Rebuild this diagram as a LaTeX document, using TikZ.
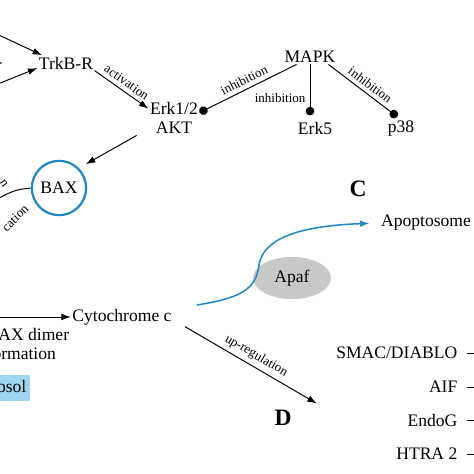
\documentclass[tikz,border=0pt]{standalone}
\usepackage{fontspec}
\setmainfont{Liberation Serif}
\usetikzlibrary{arrows.meta,shapes.geometric}
\definecolor{baxblue}{RGB}{30,136,196}
\definecolor{apafgray}{RGB}{200,200,200}
\definecolor{cytoblue}{RGB}{160,214,242}
\tikzset{
  main/.style={font=\fontsize{12.7}{14}\selectfont, inner sep=1pt},
  lbl/.style={font=\fontsize{9.4}{10}\selectfont, inner sep=3pt},
  panel/.style={font=\fontsize{17}{18}\selectfont\bfseries, inner sep=1pt},
  act/.style={-{Latex[length=2.4mm,width=1.7mm]}, line width=0.7pt},
  inh/.style={-{Circle[length=2.2mm]}, line width=0.7pt},
}

\begin{document}
\begin{tikzpicture}[x=0.0254cm,y=-0.0254cm]
\useasboundingbox (0,0) rectangle (474,474);
\clip (0,0) rectangle (474,474);

% upper pathway
\node[main] (trkb) at (66,63) {TrkB-R};
\node[main, align=center] (erk) at (174,118) {Erk1/2\\AKT};
\node[main] (mapk) at (310,57) {MAPK};
\node[main] (erk5) at (315,128) {Erk5};
\node[main] (p38) at (401,129) {p38};

\coordinate (in1) at (-12,30);
\coordinate (in2) at (-12,88);
\coordinate (in3) at (-14,63);
\coordinate (in3tip) at (3,63);
\draw[act] (in1) -- (trkb.162);
\draw[act] (in2) -- (trkb.190);
\draw[act] (in3) -- (in3tip);

\draw[act] (trkb.-15) -- node[lbl, sloped, above] {activation} (erk.160);
\draw[inh] (mapk.209) -- node[lbl, sloped, above] {inhibition} (erk.12);
\draw[inh, shorten >=0.12cm] (mapk.south) -- node[lbl, left, pos=0.6] {inhibition} (mapk.south |- erk5.north);
\draw[inh, shorten >=0.12cm] (mapk.-22) -- node[lbl, sloped, above] {inhibition} (p38.north);

% BAX
\node[main, circle, draw=baxblue, line width=1.6pt, minimum size=1.38cm] (bax) at (59,188) {BAX};
\draw[act, shorten >=0.2cm] ([xshift=-0.3cm]erk.south west) -- (bax.45);
\coordinate (baxout) at (-12,204);
\draw[line width=0.7pt] (bax.west) .. controls (14,190) .. (baxout);
\node[lbl, rotate=-55] (lbln) at (4,183) {n};
\node[lbl, rotate=45] (lblcat) at (15,218) {cation};

% C: apoptosome
\node[panel] (c) at (358,189) {C};
\node[main] (apo) at (426,223) {Apoptosome};
\node[main, ellipse, fill=apafgray, minimum width=1.98cm, minimum height=1.07cm] (apaf) at (292,278) {Apaf};
\coordinate (cytout) at (197,305);
\draw[act, draw=baxblue, line width=1.1pt, shorten >=0.25cm] (cytout)
  .. controls (240,298) and (256,290) .. (259,265)
  .. controls (263,240) and (295,226) .. (apo.west);

% cytochrome c
\node[main] (cytc) at (122,317) {Cytochrome c};
\coordinate (cin) at (-12,317);
\draw[act] (cin) -- (cytc.west);
\node[main, anchor=west, align=left] (dimer) at (-15,344) {BAX dimer\\formation};
\node[main, fill=cytoblue, inner xsep=0.1cm, minimum height=0.66cm] (cytosol) at (-1,388) {Cytosol};

% D: mitochondrial factors
\node[panel] (d) at (283,418) {D};
\draw[act] ([xshift=0.3cm]cytc.south east) -- node[lbl, sloped, above] {up-regulation} ([xshift=0.6cm,yshift=0.13cm]d.north east);

\node[main, anchor=east] (smac) at (459,353) {SMAC/DIABLO};
\node[main, anchor=east] (aif) at (459,387) {AIF};
\node[main, anchor=east] (endog) at (459,420) {EndoG};
\node[main, anchor=east] (htra) at (459,454) {HTRA 2};
\foreach \n in {smac,aif,endog,htra}
  \draw[line width=0.6pt] ([xshift=0.2cm]\n.east) -- ++(20,0);

\end{tikzpicture}
\end{document}
